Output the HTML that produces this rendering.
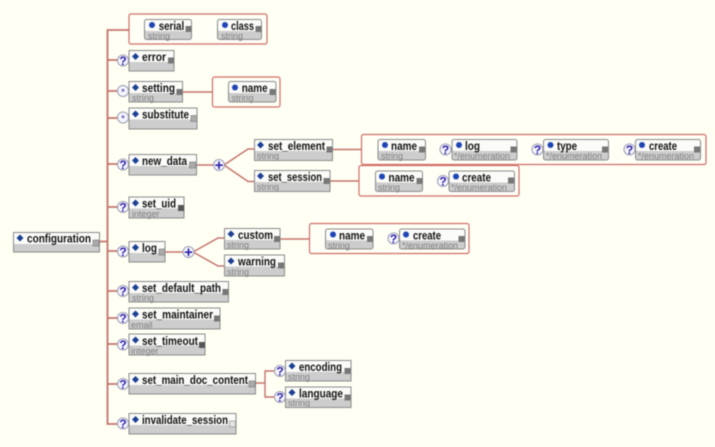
<!DOCTYPE html>
<html><head><meta charset="utf-8"><style>
html,body{margin:0;padding:0;background:#fffff3}
svg{display:block;filter:blur(.5px)}
text{font-family:"Liberation Sans",sans-serif}
.n{font-size:12px;font-weight:bold;fill:#111}
.t{font-size:9px;fill:#808080}
.l{fill:none;stroke:#c4736c;stroke-width:1.4}
.tr{fill:none;stroke:#c4736c;stroke-width:1.8}
.g{fill:#fffff6;stroke:#cf6f68;stroke-width:1.2}
.e{fill:#cdcdcd;stroke:#8b8b8b;stroke-width:1}
.w{fill:#fbfbf8}
.q{font-size:12px;font-weight:bold;fill:#2a1fa8;text-anchor:middle}
.a{font-size:9px;font-weight:bold;fill:#6a62c0;text-anchor:middle}
.p{font-size:15px;font-weight:bold;fill:#2a1fa8;text-anchor:middle}
</style></head><body>
<svg width="715" height="447" viewBox="0 0 715 447" xmlns="http://www.w3.org/2000/svg">
<defs>
<path id="d" d="M0-3.500 3.500 0 0 3.500-3.500 0Z" fill="#1c3f94"/>
<circle id="a" r="3" fill="#1f45b5"/>
<rect id="s" width="6" height="6" fill="#777"/>
<rect id="x" width="6" height="6" fill="#aaa" stroke="#777" stroke-width=".6"/>
<rect id="o" width="6" height="6" fill="#e4e4e4" stroke="#888" stroke-width=".6"/>
<circle id="c" r="5.500" fill="#f6f6ff" stroke="#9a9ab0"/>
</defs>
<rect width="715" height="447" fill="#fffff3"/>

<!-- connectors -->
<path class="tr" d="M129 30H107.500V424H117M100 241.500H107.500M107.500 60H118M107.500 91H118M107.500 118H118M107.500 164H118M107.500 207H118M107.500 251H118M107.500 291H118M107.500 318H118M107.500 344H118M107.500 384H118"/>
<path class="l" d="M183 92H212M197 165H214M224 165 248 149H254M224 165 248 181.500H254M332 149.500H361.500M330 181H359M165 252H183M193 252 218 238H224M193 252 218 266H224M280 239H309M256 383H265M275 371H265V397H275"/>

<!-- groups -->
<rect class="g" x="129" y="14" width="138" height="30" rx="2"/>
<rect class="g" x="212.500" y="77" width="67.500" height="30" rx="2"/>
<rect class="g" x="361.500" y="134.500" width="344.500" height="30" rx="2"/>
<rect class="g" x="359" y="165.500" width="160" height="30.500" rx="2"/>
<rect class="g" x="309.500" y="223.500" width="159.500" height="30" rx="2"/>

<!-- configuration -->
<rect class="e" x="13.500" y="232.500" width="86" height="19.500"/><rect class="w" x="14" y="233" width="85" height="11"/>
<use href="#d" x="20" y="238"/><text class="n" x="27" y="242.500" textLength="64" lengthAdjust="spacingAndGlyphs">configuration</text><use href="#x" x="93" y="240"/>

<!-- attribute: serial / class -->
<rect class="e" x="144.500" y="19.500" width="47" height="20" rx="2"/><rect class="w" x="145" y="20" width="46" height="11" rx="2"/>
<use href="#a" x="152" y="25"/><text class="n" x="158.700" y="30" textLength="25.500" lengthAdjust="spacingAndGlyphs">serial</text><use href="#s" x="185.500" y="26"/><text class="t" x="148" y="39">string</text>
<rect class="e" x="217.500" y="19.500" width="44" height="20" rx="2"/><rect class="w" x="218" y="20" width="43" height="11" rx="2"/>
<use href="#a" x="225" y="25"/><text class="n" x="231" y="30" textLength="23" lengthAdjust="spacingAndGlyphs">class</text><use href="#s" x="255.500" y="26"/><text class="t" x="221" y="39">string</text>

<!-- error -->
<use href="#c" x="123" y="60.500"/><text class="q" x="123" y="65">?</text>
<rect class="e" x="129" y="50.500" width="45" height="20.500"/><rect class="w" x="129.500" y="51" width="44" height="11"/>
<use href="#d" x="135.500" y="56.500"/><text class="n" x="142" y="61" textLength="24" lengthAdjust="spacingAndGlyphs">error</text><use href="#s" x="168" y="57.500"/>

<!-- setting -->
<use href="#c" x="123" y="91"/><text class="a" x="123" y="95">*</text>
<rect class="e" x="129" y="81.500" width="53.500" height="20.500"/><rect class="w" x="129.500" y="82" width="52.500" height="11"/>
<use href="#d" x="135.500" y="87.500"/><text class="n" x="142" y="92" textLength="33" lengthAdjust="spacingAndGlyphs">setting</text><use href="#s" x="176.500" y="89"/><text class="t" x="132" y="101">string</text>
<rect class="e" x="228.500" y="81.500" width="47.500" height="20.500" rx="2"/><rect class="w" x="229" y="82" width="46.500" height="11" rx="2"/>
<use href="#a" x="235" y="87.500"/><text class="n" x="241.700" y="92" textLength="26" lengthAdjust="spacingAndGlyphs">name</text><use href="#s" x="269.500" y="89"/><text class="t" x="231.500" y="101">string</text>

<!-- substitute -->
<use href="#c" x="123" y="117.500"/><text class="a" x="123" y="121.500">*</text>
<rect class="e" x="129" y="108" width="68" height="21"/><rect class="w" x="129.500" y="108.500" width="67" height="11"/>
<use href="#d" x="135.500" y="114"/><text class="n" x="142" y="118.500" textLength="47" lengthAdjust="spacingAndGlyphs">substitute</text><use href="#x" x="191" y="115.500"/>

<!-- new_data -->
<use href="#c" x="123" y="164.500"/><text class="q" x="123" y="169">?</text>
<rect class="e" x="129" y="154.500" width="67.500" height="20.500"/><rect class="w" x="129.500" y="155" width="66.500" height="11"/>
<use href="#d" x="135.500" y="160.500"/><text class="n" x="142" y="165" textLength="45" lengthAdjust="spacingAndGlyphs">new_data</text><use href="#x" x="189.500" y="162"/>
<use href="#c" x="219" y="165"/><text class="p" x="219" y="170">+</text>

<!-- set_element -->
<rect class="e" x="254.500" y="139.500" width="78" height="21"/><rect class="w" x="255" y="140" width="77" height="11"/>
<use href="#d" x="260.500" y="145"/><text class="n" x="268" y="150" textLength="57" lengthAdjust="spacingAndGlyphs">set_element</text><use href="#s" x="326.500" y="146.500"/><text class="t" x="257" y="159">string</text>
<rect class="e" x="378" y="139.500" width="47.500" height="20.500" rx="2"/><rect class="w" x="378.500" y="140" width="46.500" height="11" rx="2"/>
<use href="#a" x="385" y="145"/><text class="n" x="391" y="150" textLength="26" lengthAdjust="spacingAndGlyphs">name</text><use href="#s" x="419" y="146.500"/><text class="t" x="381" y="159">string</text>
<use href="#c" x="445.500" y="149.500"/><text class="q" x="445.500" y="154">?</text>
<rect class="e" x="452" y="139.500" width="65" height="20.500" rx="2"/><rect class="w" x="452.500" y="140" width="64" height="11" rx="2"/>
<use href="#a" x="459" y="145"/><text class="n" x="465" y="150" textLength="15" lengthAdjust="spacingAndGlyphs">log</text><use href="#s" x="510.500" y="146.500"/><text class="t" x="454" y="159" textLength="56">*/enumeration</text>
<use href="#c" x="537.500" y="149.500"/><text class="q" x="537.500" y="154">?</text>
<rect class="e" x="543.500" y="139.500" width="65" height="20.500" rx="2"/><rect class="w" x="544" y="140" width="64" height="11" rx="2"/>
<use href="#a" x="550.500" y="145"/><text class="n" x="557" y="150" textLength="20" lengthAdjust="spacingAndGlyphs">type</text><use href="#s" x="602" y="146.500"/><text class="t" x="546" y="159" textLength="56">*/enumeration</text>
<use href="#c" x="629.500" y="149.500"/><text class="q" x="629.500" y="154">?</text>
<rect class="e" x="635.500" y="139.500" width="65" height="20.500" rx="2"/><rect class="w" x="636" y="140" width="64" height="11" rx="2"/>
<use href="#a" x="642" y="145"/><text class="n" x="649" y="150" textLength="28" lengthAdjust="spacingAndGlyphs">create</text><use href="#s" x="694" y="146.500"/><text class="t" x="638" y="159" textLength="56">*/enumeration</text>

<!-- set_session -->
<rect class="e" x="254.500" y="170.500" width="75.500" height="21"/><rect class="w" x="255" y="171" width="74.500" height="11"/>
<use href="#d" x="260.500" y="176"/><text class="n" x="268" y="181" textLength="54" lengthAdjust="spacingAndGlyphs">set_session</text><use href="#s" x="323.500" y="178"/><text class="t" x="257" y="190">string</text>
<rect class="e" x="375.500" y="171" width="47" height="20.500" rx="2"/><rect class="w" x="376" y="171.500" width="46" height="11" rx="2"/>
<use href="#a" x="382" y="176.500"/><text class="n" x="388.500" y="181.500" textLength="26" lengthAdjust="spacingAndGlyphs">name</text><use href="#s" x="416.500" y="178"/><text class="t" x="378" y="190.500">string</text>
<use href="#c" x="443" y="181"/><text class="q" x="443" y="185.500">?</text>
<rect class="e" x="449" y="171" width="65.500" height="20.500" rx="2"/><rect class="w" x="449.500" y="171.500" width="64.500" height="11" rx="2"/>
<use href="#a" x="456" y="176.500"/><text class="n" x="462" y="181.500" textLength="29" lengthAdjust="spacingAndGlyphs">create</text><use href="#s" x="508" y="177.500"/><text class="t" x="451" y="190.500" textLength="56">*/enumeration</text>

<!-- set_uid -->
<use href="#c" x="123" y="207"/><text class="q" x="123" y="211.500">?</text>
<rect class="e" x="129" y="197" width="55" height="21"/><rect class="w" x="129.500" y="197.500" width="54" height="11"/>
<use href="#d" x="135.500" y="203"/><text class="n" x="142" y="207.500" textLength="34" lengthAdjust="spacingAndGlyphs">set_uid</text><rect x="178" y="205" width="6" height="6" fill="#555"/><text class="t" x="132" y="217">integer</text>

<!-- log -->
<use href="#c" x="123" y="251.500"/><text class="q" x="123" y="256">?</text>
<rect class="e" x="129" y="241.500" width="36" height="20.500"/><rect class="w" x="129.500" y="242" width="35" height="11"/>
<use href="#d" x="135.500" y="247.500"/><text class="n" x="142" y="252" textLength="15" lengthAdjust="spacingAndGlyphs">log</text><use href="#x" x="159" y="249"/>
<use href="#c" x="188.500" y="252"/><text class="p" x="188.500" y="257">+</text>

<!-- custom -->
<rect class="e" x="224.500" y="228.500" width="55.500" height="20.500"/><rect class="w" x="225" y="229" width="54.500" height="11"/>
<use href="#d" x="231" y="234"/><text class="n" x="238" y="239" textLength="35" lengthAdjust="spacingAndGlyphs">custom</text><use href="#s" x="274" y="236"/><text class="t" x="227" y="248">string</text>
<rect class="e" x="325.500" y="229" width="47.500" height="20" rx="2"/><rect class="w" x="326" y="229.500" width="46.500" height="11" rx="2"/>
<use href="#a" x="333" y="234.500"/><text class="n" x="339" y="239.500" textLength="26" lengthAdjust="spacingAndGlyphs">name</text><use href="#s" x="367" y="236"/><text class="t" x="328" y="248.500">string</text>
<use href="#c" x="393.500" y="238.500"/><text class="q" x="393.500" y="243">?</text>
<rect class="e" x="399.500" y="229" width="65.500" height="20" rx="2"/><rect class="w" x="400" y="229.500" width="64.500" height="11" rx="2"/>
<use href="#a" x="406" y="234.500"/><text class="n" x="413" y="239.500" textLength="28" lengthAdjust="spacingAndGlyphs">create</text><use href="#s" x="458.500" y="236"/><text class="t" x="402" y="248.500" textLength="56">*/enumeration</text>

<!-- warning -->
<rect class="e" x="224.500" y="255" width="60" height="21"/><rect class="w" x="225" y="255.500" width="59" height="11"/>
<use href="#d" x="231" y="261"/><text class="n" x="238" y="265.500" textLength="38" lengthAdjust="spacingAndGlyphs">warning</text><use href="#s" x="278" y="262.500"/><text class="t" x="227" y="275">string</text>

<!-- set_default_path -->
<use href="#c" x="123" y="291"/><text class="q" x="123" y="295.500">?</text>
<rect class="e" x="129" y="281.500" width="99.500" height="20.500"/><rect class="w" x="129.500" y="282" width="98.500" height="11"/>
<use href="#d" x="135.500" y="287.500"/><text class="n" x="142" y="292" textLength="79" lengthAdjust="spacingAndGlyphs">set_default_path</text><use href="#s" x="222.500" y="289"/><text class="t" x="132" y="301">string</text>

<!-- set_maintainer -->
<use href="#c" x="123" y="318"/><text class="q" x="123" y="322.500">?</text>
<rect class="e" x="129" y="308" width="91" height="21"/><rect class="w" x="129.500" y="308.500" width="90" height="11"/>
<use href="#d" x="135.500" y="314"/><text class="n" x="142" y="318.500" textLength="71" lengthAdjust="spacingAndGlyphs">set_maintainer</text><use href="#s" x="214" y="315.500"/><text class="t" x="131" y="328">email</text>

<!-- set_timeout -->
<use href="#c" x="123" y="344.500"/><text class="q" x="123" y="349">?</text>
<rect class="e" x="129" y="334" width="76" height="21"/><rect class="w" x="129.500" y="334.500" width="75" height="11"/>
<use href="#d" x="135.500" y="340"/><text class="n" x="142" y="345" textLength="56" lengthAdjust="spacingAndGlyphs">set_timeout</text><rect x="199" y="342" width="6" height="6" fill="#555"/><text class="t" x="131" y="354">integer</text>

<!-- set_main_doc_content -->
<use href="#c" x="123" y="384"/><text class="q" x="123" y="388.500">?</text>
<rect class="e" x="129" y="373.500" width="126.500" height="20.500"/><rect class="w" x="129.500" y="374" width="125.500" height="11"/>
<use href="#d" x="135.500" y="379.500"/><text class="n" x="142" y="384" textLength="106" lengthAdjust="spacingAndGlyphs">set_main_doc_content</text><use href="#x" x="249" y="381"/>
<use href="#c" x="280" y="371"/><text class="q" x="280" y="375.500">?</text>
<rect class="e" x="285.500" y="360.500" width="65.500" height="20.500"/><rect class="w" x="286" y="361" width="64.500" height="11"/>
<use href="#d" x="292" y="366"/><text class="n" x="299" y="371" textLength="43" lengthAdjust="spacingAndGlyphs">encoding</text><use href="#s" x="344.500" y="368"/><text class="t" x="288" y="380">string</text>
<use href="#c" x="280" y="397"/><text class="q" x="280" y="401.500">?</text>
<rect class="e" x="285.500" y="387" width="65.500" height="20.500"/><rect class="w" x="286" y="387.500" width="64.500" height="11"/>
<use href="#d" x="292" y="392.500"/><text class="n" x="299" y="397.500" textLength="44" lengthAdjust="spacingAndGlyphs">language</text><use href="#s" x="344.500" y="394.500"/><text class="t" x="288" y="406">string</text>

<!-- invalidate_session -->
<use href="#c" x="123" y="423.500"/><text class="q" x="123" y="428">?</text>
<rect class="e" x="129" y="413.500" width="107" height="20.500"/><rect class="w" x="129.500" y="414" width="106" height="11"/>
<use href="#d" x="135.500" y="419.500"/><text class="n" x="142" y="424" textLength="86" lengthAdjust="spacingAndGlyphs">invalidate_session</text><use href="#o" x="229.500" y="421"/>
</svg>
</body></html>
